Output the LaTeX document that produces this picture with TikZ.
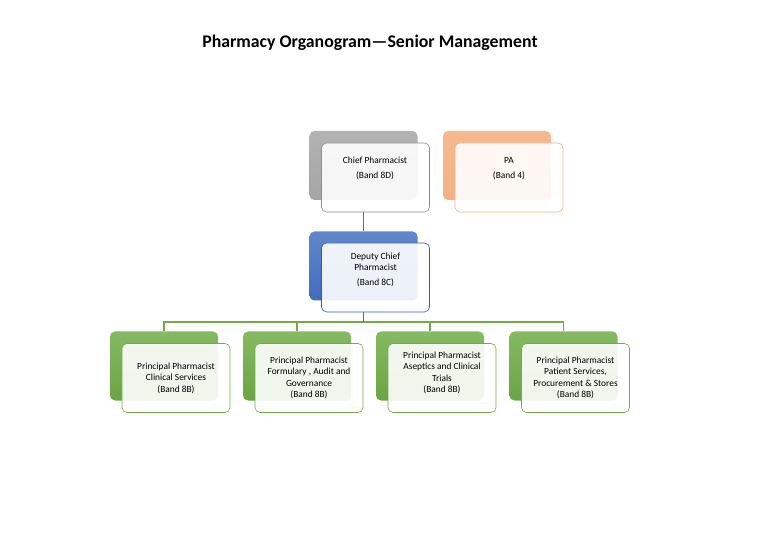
\documentclass[tikz,border=0pt]{standalone}
\usepackage{fontspec}
\setmainfont{Carlito}
\definecolor{greyback}{HTML}{A5A5A5}
\definecolor{orangeback}{HTML}{F4B183}
\definecolor{blueback}{HTML}{4472C4}
\definecolor{greenback}{HTML}{70AD47}
\definecolor{blueline}{HTML}{41719C}
\begin{document}
\begin{tikzpicture}[x=1pt,y=-1pt,
  backbox/.style={rectangle,rounded corners=5pt,minimum width=108pt,minimum height=69pt,inner sep=0pt},
  frontbox/.style={rectangle,rounded corners=5pt,minimum width=108pt,minimum height=69pt,inner sep=1pt,
    fill=white,fill opacity=0.9,text opacity=1,line width=0.6pt,align=center,
    font=\fontsize{9.4}{11.5}\selectfont},
  boxtext/.style={align=center,inner sep=0pt,font=\fontsize{9.4}{11.5}\selectfont},
  greybox/.style={backbox,top color=greyback!85,bottom color=greyback},
  orangebox/.style={backbox,top color=orangeback!90,bottom color=orangeback},
  bluebox/.style={backbox,top color=blueback!85,bottom color=blueback!95!black},
  greenbox/.style={backbox,top color=greenback!85,bottom color=greenback!95!black},
  link/.style={line width=1.3pt}]
\useasboundingbox (0,0) rectangle (780,540);

\node[font=\fontsize{17.8}{20}\selectfont\bfseries] (title) at (370,43) {Pharmacy Organogram---Senior Management};

% top row
\node[greybox] (chiefB) at (363.5,165.5) {};
\node[orangebox] (paB) at (497,165.5) {};
\node[bluebox] (depB) at (363.5,266) {};

% connectors
\draw[link,blueline] (chiefB |- 0,212) -- (depB.north);
\coordinate (bus) at (0,322);
\node[greenbox] (p1B) at (164,366) {};
\node[greenbox] (p2B) at (297,366) {};
\node[greenbox] (p3B) at (430,366) {};
\node[greenbox] (p4B) at (563.5,366) {};
\draw[link,greenback] (p1B.north) -- (p1B |- bus) -- (p4B |- bus) -- (p4B.north);
\draw[link,greenback] (p2B.north) -- (p2B |- bus);
\draw[link,greenback] (p3B.north) -- (p3B |- bus);
\draw[link,blueline] (depB |- 0,312) -- (depB |- bus);

\node[frontbox,draw=greyback!85!black] (chiefF) at (375.5,177.5) {};
\node[boxtext] (chiefT) at (375,168.5) {Chief Pharmacist\\[3.5pt](Band 8D)};
\node[frontbox,draw=orangeback] (paF) at (509,177.5) {};
\node[boxtext] (paT) at (509,168.5) {PA\\[3.5pt](Band 4)};
\node[frontbox,draw=blueback!80!black] (depF) at (375.5,277.5) {};
\node[boxtext] (depT) at (375.5,270) {Deputy Chief\\Pharmacist\\[3.5pt](Band 8C)};

% principal pharmacists
\node[frontbox,draw=greenback] (p1F) at (176,378) {Principal Pharmacist\\Clinical Services\\(Band 8B)};
\node[frontbox,draw=greenback] (p2F) at (309,378) {Principal Pharmacist\\Formulary , Audit and\\Governance\\(Band 8B)};
\node[frontbox,draw=greenback] (p3F) at (442,378) {Principal Pharmacist\\Aseptics and Clinical\\Trials\\(Band 8B)\\[0pt]};
\node[frontbox,draw=greenback] (p4F) at (575.5,378) {Principal Pharmacist\\Patient Services,\\Procurement \& Stores\\(Band 8B)};
\end{tikzpicture}
\end{document}
